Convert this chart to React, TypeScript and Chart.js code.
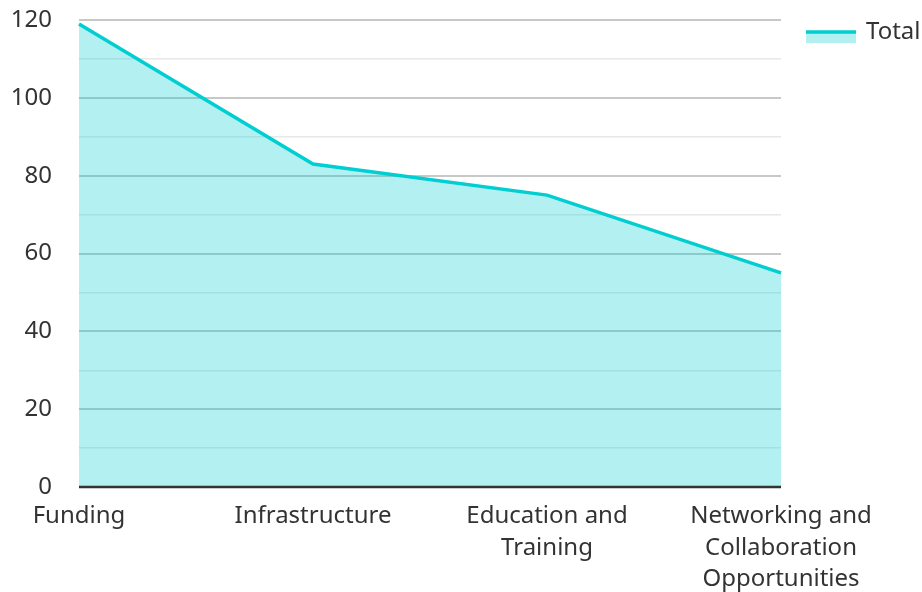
import React, { useEffect, useRef } from "react";
import { Chart, registerables } from "chart.js";

Chart.register(...registerables);

const categories: (string | string[])[] = [
  "Funding",
  "Infrastructure",
  ["Education and", "Training"],
  ["Networking and", "Collaboration", "Opportunities"],
];
const totalValues = [119, 83, 75, 55];
const seriesLabel = "Total";

const LINE = "#00CED1";
const FILL = "rgba(0,206,209,0.3)";
const TEXT = "#333333";
const FONT = "'Noto Sans', 'Open Sans', sans-serif";
const FS = 24;

const legendPlugin = {
  id: "customLegend",
  afterDatasetsDraw(chart: any) {
    const ctx = chart.ctx;
    const a = chart.chartArea;
    ctx.save();
    ctx.strokeStyle = "#333333";
    ctx.lineWidth = 2.5;
    ctx.beginPath();
    ctx.moveTo(a.left, a.bottom);
    ctx.lineTo(a.right, a.bottom);
    ctx.stroke();
    ctx.restore();
  },
  afterDraw(chart: any) {
    const ctx = chart.ctx;
    const x = 806;
    const y = 32;
    ctx.save();
    ctx.fillStyle = FILL;
    ctx.fillRect(x, y + 1, 50, 10);
    ctx.strokeStyle = LINE;
    ctx.lineWidth = 3.5;
    ctx.beginPath();
    ctx.moveTo(x, y);
    ctx.lineTo(x + 50, y);
    ctx.stroke();
    ctx.fillStyle = TEXT;
    ctx.font = `${FS}px ${FONT}`;
    ctx.textBaseline = "middle";
    ctx.textAlign = "left";
    ctx.fillText(seriesLabel, 866, y);
    ctx.restore();
  },
};

export default function App() {
  const ref = useRef<HTMLCanvasElement>(null);
  useEffect(() => {
    if (!ref.current) return;
    const chart = new Chart(ref.current, {
      type: "line",
      data: {
        labels: categories as any,
        datasets: [
          {
            label: seriesLabel,
            data: totalValues,
            borderColor: LINE,
            backgroundColor: FILL,
            borderWidth: 3.5,
            fill: "origin",
            pointRadius: 0,
            tension: 0,
          },
        ],
      },
      options: {
        animation: false,
        responsive: false,
        maintainAspectRatio: false,
        layout: { padding: { left: 0, right: 141, top: 20, bottom: 0 } },
        plugins: { legend: { display: false }, tooltip: { enabled: false } },
        font: { family: FONT },
        scales: {
          x: {
            offset: false,
            grid: { display: false, drawTicks: false },
            border: { display: false },
            ticks: {
              color: TEXT,
              font: { size: FS, family: FONT, lineHeight: 1.3 },
              padding: 14,
              maxRotation: 0,
              autoSkip: false,
            },
            afterFit: (s: any) => {
              s.height = 105;
              s.paddingTop = 0;
              s.paddingBottom = 0;
            },
          },
          y: {
            min: 0,
            max: 120,
            border: { display: false },
            grid: {
              drawTicks: false,
              color: (c: any) => (c.tick && c.tick.value % 20 === 0 ? "#c8c8c8" : "#e8e8e8"),
              lineWidth: (c: any) => (c.tick && c.tick.value % 20 === 0 ? 2 : 1.5),
            },
            ticks: {
              stepSize: 10,
              color: TEXT,
              font: { size: FS, family: FONT },
              padding: 27,
              callback: (v: any) => (Number(v) % 20 === 0 ? String(v) : ""),
            },
            afterFit: (s: any) => {
              s.width = 79;
              s.paddingTop = 0;
              s.paddingBottom = 0;
            },
          },
        },
      },
      plugins: [legendPlugin],
    });
    return () => chart.destroy();
  }, []);
  return (
    <div style={{ position: "fixed", left: 0, top: 0, width: 922, height: 592, background: "#fff" }}>
      <canvas ref={ref} width={922} height={592} style={{ display: "block", width: 922, height: 592 }} />
    </div>
  );
}
